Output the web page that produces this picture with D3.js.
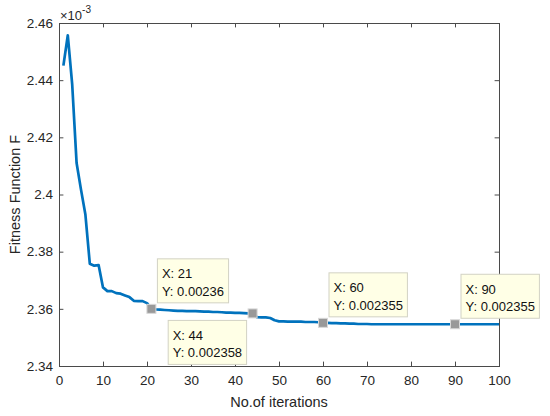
<!DOCTYPE html>
<html>
<head>
<meta charset="utf-8">
<script src="https://cdn.jsdelivr.net/npm/d3@7/dist/d3.min.js"></script>
<style>
  html, body { margin: 0; padding: 0; background: #fff; }
  text { font-family: "Liberation Sans", Arial, Helvetica, sans-serif; }
</style>
</head>
<body>
<svg id="chart" width="550" height="416"></svg>
<script>
// ---- data (fitness values in units of 1e-3) ----
const iterations = d3.range(1, 101);
const fitness = [
  2.4451, 2.4557, 2.4385, 2.4110, 2.4017, 2.3930, 2.3758, 2.3751, 2.3753, 2.3675,
  2.3662, 2.3662, 2.3655, 2.3653, 2.3647, 2.3641, 2.3628, 2.3627, 2.3627, 2.3620,
  2.3600, 2.3598, 2.3597, 2.3596, 2.3595, 2.3594, 2.3593, 2.3593, 2.3592, 2.3592,
  2.3592, 2.3591, 2.3590, 2.3590, 2.3589, 2.3589, 2.3588, 2.3587, 2.3587, 2.3586,
  2.3586, 2.3585, 2.3584, 2.3584, 2.3571, 2.3570, 2.3570, 2.3568, 2.3560, 2.3556,
  2.3556, 2.3555, 2.3555, 2.3555, 2.3555, 2.3554, 2.3554, 2.3554, 2.3553, 2.3551,
  2.3551, 2.3550, 2.3550, 2.3549, 2.3549, 2.3548, 2.3548, 2.3547, 2.3547, 2.3547,
  2.3546, 2.3546, 2.3546, 2.3546, 2.3546, 2.3546, 2.3546, 2.3546, 2.3546, 2.3546,
  2.3546, 2.3546, 2.3546, 2.3546, 2.3546, 2.3546, 2.3546, 2.3546, 2.3546, 2.3546,
  2.3546, 2.3546, 2.3546, 2.3546, 2.3546, 2.3546, 2.3546, 2.3546, 2.3546, 2.3546
];
const xTicks = [0, 10, 20, 30, 40, 50, 60, 70, 80, 90, 100];
const yTicks = [2.34, 2.36, 2.38, 2.40, 2.42, 2.44, 2.46];
const yTickLabels = ["2.34", "2.36", "2.38", "2.4", "2.42", "2.44", "2.46"];
const tipX = [21, 44, 60, 90];
const tipYLabels = ["0.00236", "0.002358", "0.002355", "0.002355"];
const tipPlacement = ["up", "down", "up", "up"];

// ---- layout ----
const mLeft = 59, mRight = 499, mTop = 23, mBottom = 366;
const svg = d3.select("#chart");
svg.append("rect").attr("width", 550).attr("height", 416).attr("fill", "#fff");

const x = d3.scaleLinear().domain([0, 100]).range([mLeft, mRight]);
const y = d3.scaleLinear().domain([2.34, 2.46]).range([mBottom, mTop]);

const axisColor = "#4a4a4a";
const textColor = "#262626";
const tickLen = 4.4;

svg.append("rect")
  .attr("x", mLeft).attr("y", mTop)
  .attr("width", mRight - mLeft).attr("height", mBottom - mTop)
  .attr("fill", "none").attr("stroke", axisColor).attr("stroke-width", 1)
  .attr("shape-rendering", "crispEdges");

function styleAxis(g, withLabels) {
  g.select(".domain").remove();
  g.selectAll(".tick line").attr("stroke", axisColor).attr("stroke-width", 1);
  g.selectAll(".tick text").attr("fill", textColor).style("font-size", "13.5px")
    .style("font-family", '"Liberation Sans", Arial, Helvetica, sans-serif');
  if (!withLabels) g.selectAll(".tick text").remove();
}

svg.append("g").attr("transform", `translate(0,${mBottom})`)
  .call(d3.axisBottom(x).tickValues(xTicks).tickSizeInner(-tickLen).tickSizeOuter(0).tickPadding(9))
  .call(g => styleAxis(g, true));
svg.append("g").attr("transform", `translate(0,${mTop})`)
  .call(d3.axisTop(x).tickValues(xTicks).tickSizeInner(-tickLen).tickSizeOuter(0))
  .call(g => styleAxis(g, false));
svg.append("g").attr("transform", `translate(${mLeft},0)`)
  .call(d3.axisLeft(y).tickValues(yTicks).tickFormat((d, i) => yTickLabels[i])
    .tickSizeInner(-tickLen).tickSizeOuter(0).tickPadding(6))
  .call(g => styleAxis(g, true));
svg.append("g").attr("transform", `translate(${mRight},0)`)
  .call(d3.axisRight(y).tickValues(yTicks).tickSizeInner(-tickLen).tickSizeOuter(0))
  .call(g => styleAxis(g, false));

const expo = svg.append("text").attr("x", mLeft + 1).attr("y", 19.5)
  .attr("fill", textColor).style("font-size", "13px");
expo.append("tspan").text("\u00d710");
expo.append("tspan").attr("dy", -6.5).style("font-size", "10px").text("-3");

svg.append("text")
  .attr("x", (mLeft + mRight) / 2).attr("y", 407)
  .attr("text-anchor", "middle").attr("fill", textColor)
  .style("font-size", "14.5px").text("No.of iterations");
svg.append("text")
  .attr("transform", `translate(20,${(mTop + mBottom) / 2}) rotate(-90)`)
  .attr("text-anchor", "middle").attr("fill", textColor)
  .style("font-size", "14.5px").text("Fitness Function F");

const line = d3.line().x((d, i) => x(iterations[i])).y(d => y(d));
svg.append("path").datum(fitness)
  .attr("d", line).attr("fill", "none")
  .attr("stroke", "#0072BD").attr("stroke-width", 2.7)
  .attr("stroke-linejoin", "round");

tipX.forEach((tx, k) => {
  const px = x(tx), py = y(fitness[tx - 1]);
  const g = svg.append("g");
  const box = g.append("rect").attr("fill", "#ffffe6").attr("stroke", "#d2d2c4").attr("stroke-width", 1);
  const t1 = g.append("text").attr("fill", "#111").style("font-size", "13px").text("X: " + tx);
  const t2 = g.append("text").attr("fill", "#111").style("font-size", "13px").text("Y: " + tipYLabels[k]);
  const w = Math.max(t1.node().getComputedTextLength(), t2.node().getComputedTextLength()) + 9;
  const h = 44;
  let bx, by;
  if (tipPlacement[k] === "up") { bx = px + 6; by = py - 6 - h; }
  else { bx = px - 6 - w; by = py + 7; }
  box.attr("x", bx).attr("y", by).attr("width", w).attr("height", h);
  t1.attr("x", bx + 4.5).attr("y", by + 19.5);
  t2.attr("x", bx + 4.5).attr("y", by + 37);
  svg.append("rect")
    .attr("x", px - 4.5).attr("y", py - 4.5).attr("width", 9).attr("height", 9)
    .attr("fill", "#999").attr("stroke", "#d8d8d8").attr("stroke-width", 1);
});
</script>
</body>
</html>
